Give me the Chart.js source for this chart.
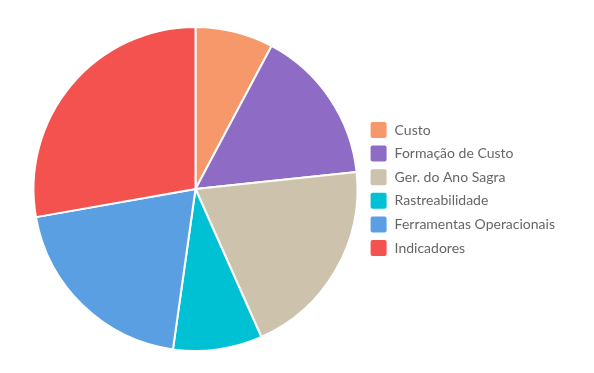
<!DOCTYPE html>
<html>
<head>
<meta charset="utf-8">
<script src="https://cdn.jsdelivr.net/npm/chart.js@4"></script>
<style>
  html, body { margin: 0; padding: 0; background: #fff; }
  #wrap { width: 594px; height: 373px; }
</style>
</head>
<body>
<div id="wrap"><canvas id="pie"></canvas></div>
<script>
/* data */
const labels = ["Custo", "Formação de Custo", "Ger. do Ano Sagra", "Rastreabilidade", "Ferramentas Operacionais", "Indicadores"];
const values = [7, 14, 18, 8, 18, 25];
const colors = ["#F7986A", "#8E6CC5", "#CDC2AB", "#00C0D4", "#5A9FE2", "#F4524F"];

new Chart(document.getElementById("pie"), {
    type: "pie",
    data: {
        labels,
        datasets: [{
            data: values,
            backgroundColor: colors,
            borderColor: "#fff",
            borderWidth: 2
        }]
    },
    options: {
        responsive: true,
        maintainAspectRatio: false,
        animation: false,
        layout: { padding: { left: 27, top: 26, bottom: 21, right: 29 } },
        plugins: {
            tooltip: { enabled: false },
            legend: {
                position: "right",
                labels: {
                    boxWidth: 18,
                    boxHeight: 18,
                    useBorderRadius: true,
                    borderRadius: 3,
                    padding: 5.6,
                    color: "#666",
                    font: { family: "Lato", size: 14 }
                }
            }
        }
    }
});
</script>
</body>
</html>
